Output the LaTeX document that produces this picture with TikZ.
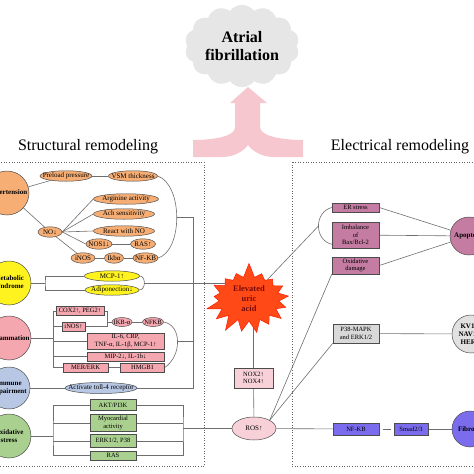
\documentclass[tikz,border=0pt]{standalone}
\usepackage{fontspec}
\setmainfont{Liberation Serif}
\usetikzlibrary{positioning, shapes.geometric, shapes.symbols, backgrounds}

\definecolor{cloudgray}{HTML}{E6E6E6}
\definecolor{forkpink}{HTML}{F7C7CF}
\definecolor{hyporange}{HTML}{F7AE74}
\definecolor{metyellow}{HTML}{FFF31F}
\definecolor{inflpink}{HTML}{F4A7AF}
\definecolor{immblue}{HTML}{B8C8E4}
\definecolor{oxigreen}{HTML}{A9D08E}
\definecolor{rospink}{HTML}{F8D0D8}
\definecolor{uricred}{HTML}{FF4A17}
\definecolor{uricdark}{HTML}{7A0A0A}
\definecolor{apomauve}{HTML}{C47CA2}
\definecolor{kvgray}{HTML}{D9D9D9}
\definecolor{fibpurple}{HTML}{7B6CEE}
\definecolor{linkgray}{HTML}{6E6E6E}

\begin{document}
\begin{tikzpicture}[
    x=1pt, y=-1pt,
    every node/.style={font=\fontsize{6.5}{7.5}\selectfont, align=center},
    hub/.style={circle, draw=black!70, line width=0.5pt, inner sep=0pt, minimum size=#1, font=\fontsize{7}{8}\selectfont\bfseries},
    oval/.style={ellipse, draw=black!70, line width=0.5pt, inner xsep=-30pt, inner ysep=0pt, minimum width=#1, minimum height=10.5, font=\fontsize{7}{8}\selectfont},
    box/.style={rectangle, draw=black!70, line width=0.5pt, inner sep=0.5pt, minimum width=#1, minimum height=9},
    link/.style={draw=linkgray, line width=0.6pt},
    zone/.style={draw=black!60, dotted, line width=0.6pt}
]
\useasboundingbox (0,0) rectangle (474,474);

% Nodes
\node[cloud, cloud puffs=14, cloud puff arc=110, aspect=1.4, fill=cloudgray, draw=cloudgray, inner xsep=-10pt, inner ysep=-6pt, minimum width=114pt, minimum height=82pt, font=\fontsize{16}{18}\selectfont\bfseries] (af) at (242,46) {Atrial\\fibrillation};
\node[font=\fontsize{16}{18}\selectfont, anchor=base] (struct) at (88,150) {Structural remodeling};
\node[font=\fontsize{16}{18}\selectfont, anchor=base] (elec) at (400,150) {Electrical remodeling};

\node[hub=44, fill=hyporange] (hyp) at (7,193) {Hypertension};
\node[oval=52, fill=hyporange] (pre) at (66,176) {Preload pressure};
\node[oval=49, fill=hyporange, right=16pt of pre] (vsm) {VSM thickness};
\node[oval=24, fill=hyporange] (no) at (50,232) {NO↓};
\node[oval=65, fill=hyporange] (arg) at (126,199) {Arginine activity};
\node[oval=61, fill=hyporange] (ach) at (124,214) {Ach sensitivity};
\node[oval=61, fill=hyporange] (react) at (124,231) {React with NO};
\node[oval=26, fill=hyporange] (nos1) at (99,244) {NOS1↓};
\node[oval=25, fill=hyporange, right=18pt of nos1] (rasup) {RAS↑};
\node[oval=24, fill=hyporange] (inos) at (83,258) {iNOS};
\node[oval=19, fill=hyporange, right=9pt of inos] (ikb) {Ikbα};
\node[oval=25, fill=hyporange, right=9pt of ikb] (nfkb) {NF-KB};

\node[hub=44, fill=metyellow] (met) at (9,283) {Metabolic\\syndrome};
\node[oval=55, fill=metyellow] (mcp) at (112,276) {MCP-1↑};
\node[oval=54, fill=metyellow] (adipo) at (112,290) {Adiponection↓};

\node[hub=44, fill=inflpink] (infl) at (9,338) {Inflammation};
\node[box=48, fill=inflpink] (cox) at (80,311) {COX2↑, PEG2↑};
\node[box=23, fill=inflpink] (inosup) at (73.5,326.5) {iNOS↑};
\node[oval=20, minimum height=9, fill=inflpink, font=\fontsize{6.5}{7.5}\selectfont] (ikba) at (122,322) {IKB-α};
\node[oval=21, minimum height=9, fill=inflpink, font=\fontsize{6.5}{7.5}\selectfont, right=10pt of ikba] (nfkbi) {NFKB};
\node[box=77, minimum height=16, fill=inflpink] (il6) at (125.5,341) {IL-6, CRP,\\TNF-α, IL-1β, MCP-1↑};
\node[box=77, fill=inflpink] (mip) at (125.5,356.5) {MIP-2↓, IL-1b↓};
\node[box=45, fill=inflpink] (mer) at (85.5,367.5) {MER/ERK};
\node[box=44, fill=inflpink, right=12pt of mer] (hmgb) {HMGB1};

\node[hub=42, fill=immblue] (imm) at (9,388) {Immune\\impairment};
\node[oval=72, minimum height=11, fill=immblue] (toll) at (101,388) {Activate toll-4 receptor};

\node[hub=44, fill=oxigreen] (oxi) at (9,436) {Oxidative\\stress};
\node[box=46, minimum height=11, fill=oxigreen] (akt) at (113,405) {AKT/PI3K};
\node[box=46, minimum height=17, fill=oxigreen] (myo) at (113,423) {Myocardial\\activity};
\node[box=46, minimum height=13, fill=oxigreen] (erk) at (113,441) {ERK1/2, P38};
\node[box=46, fill=oxigreen] (rasb) at (113,455.5) {RAS};

\node[starburst, starburst points=17, starburst point height=15pt, random starburst=7, fill=uricred, draw=red!80!orange, line width=0.5pt, minimum width=90pt, minimum height=74pt, inner sep=0pt, font=\fontsize{8.5}{10}\selectfont\bfseries, text=uricdark] (uric) at (249,299) {Elevated\\uric\\acid};
\node[box=39, minimum height=20, fill=rospink] (nox) at (253.5,378) {NOX2↑\\NOX4↑};
\node[oval=44, minimum height=23, fill=rospink] (ros) at (254,428.5) {ROS↑};

\node[box=47, fill=apomauve] (er) at (355.5,207.5) {ER stress};
\node[box=47, minimum height=26, fill=apomauve] (imbal) at (355.5,235) {Imbalance\\of\\Bax/Bcl-2};
\node[box=47, minimum height=17, fill=apomauve] (oxdam) at (355.5,265.5) {Oxidative\\damage};
\node[hub=38, fill=apomauve] (apo) at (469,236) {Apoptosis};
\node[box=46, minimum height=19, fill=kvgray] (p38) at (356,333.5) {P38-MAPK\\and ERK1/2};
\node[hub=38, fill=kvgray!80] (kv) at (471,334) {KV1.5,\\NAV1.5,\\HERG};
\node[box=46, minimum height=12, fill=fibpurple] (nfkbf) at (356,429) {NF-KB};
\node[box=34, minimum height=12, fill=fibpurple] (smad) at (411,429) {Smad2/3};
\node[hub=36, fill=fibpurple] (fib) at (470,429) {Fibrosis};

\begin{scope}[on background layer]
% Frames and fork
\draw[zone] (-5,162) rectangle (204,466);
\draw[zone] (292,162) rectangle (480,466);
\fill[forkpink] (248,87) -- (267,103) -- (260,103) -- (260,128) .. controls (262,137) and (285,140) .. (303,140) -- (303,157) -- (274,157) .. controls (264,157) and (254,153) .. (248,145) .. controls (242,153) and (232,157) .. (222,157) -- (193,157) -- (193,140) .. controls (211,140) and (234,137) .. (235,128) -- (235,103) -- (230,103) -- cycle;

% Lines
\draw[link] (hyp) -- (pre);
\draw[link] (pre) -- (vsm);
\draw[link] (hyp) -- (no);
\draw[link] (no.east) -- (arg.west);
\draw[link] (no.east) -- (ach.west);
\draw[link] (no.east) -- (react.west);
\draw[link] (no.east) -- (nos1.west);
\draw[link] (nos1) -- (rasup);
\draw[link] (no) -- (inos);
\draw[link] (inos) -- (ikb) -- (nfkb);
\draw[link] (vsm.east) .. controls (183,185) and (183,250) .. (nfkb.east) coordinate[pos=0.5] (hypbr);
\draw[link] (hypbr) -- ++(16.5,0) coordinate (bustop);
\draw[link] (bustop) |- (toll.east);

\coordinate (metbl) at (45,283);
\draw[link] (met) -- (metbl);
\draw[link] (mcp.west) -| (metbl) |- (adipo.west);
\draw[link] (mcp.east) .. controls (146,276) and (146,290) .. (adipo.east) coordinate[pos=0.5] (metbr);
\draw[link] (metbr) -- (metbr -| uric);

\coordinate (inflt) at (53,311);
\draw[link] (infl) -- (infl -| inflt);
\draw[link] (cox.west) -- (inflt) |- (mer.west);
\draw[link] (inosup.west) -- (inosup.west -| inflt);
\draw[link] (il6.west) -- (il6.west -| inflt);
\draw[link] (mip.west) -- (mip.west -| inflt);
\coordinate (coxbr) at (107,322);
\draw[link] (cox.east) -| (coxbr) -- (ikba.west);
\draw[link] (inosup.east) -| (coxbr);
\draw[link] (ikba) -- (nfkbi);
\draw[link] (mer) -- (hmgb);
\draw[link] (nfkbi.east) .. controls (182,325) and (182,356) .. (hmgb.east) coordinate[pos=0.5] (inflbr);
\draw[link] (inflbr) -- (inflbr -| bustop);

\draw[link] (imm) -- (toll);

\coordinate (oxil) at (53,436);
\coordinate (oxir) at (183,428.5);
\draw[link] (oxi) -- (oxil);
\draw[link] (akt.west) -| (oxil) |- (rasb.west);
\draw[link] (myo.west) -- (myo.west -| oxil);
\draw[link] (erk.west) -- (erk.west -| oxil);
\draw[link] (akt.east) -| (oxir) |- (rasb.east);
\draw[link] (myo.east) -- (myo.east -| oxir);
\draw[link] (erk.east) -- (erk.east -| oxir);
\draw[link] (oxir) -- (ros);

\draw[link] (nox) -- (nox |- uric);
\draw[link] (nox) -- (ros);
\draw[link] (ros) -- (nfkbf);
\draw[link, shorten <=4pt, shorten >=3pt] (nfkbf) -- (smad);
\draw[link] (smad) -- (fib);
\draw[link] (ros.north east) -- (oxdam.south west);
\draw[link] (ros.north east) -- (p38.south west);
\draw[link] (p38) -- (kv);
\draw[link] (er.west) .. controls (314,212) and (314,240) .. ([yshift=4pt]imbal.south west) coordinate[pos=0.5] (erbr);
\draw[link] (uric) -- (erbr);
\draw[link] (er.east) -- (apo);
\draw[link] (imbal) -- (apo);
\draw[link] (oxdam.east) -- (apo);
\end{scope}

\end{tikzpicture}
\end{document}
